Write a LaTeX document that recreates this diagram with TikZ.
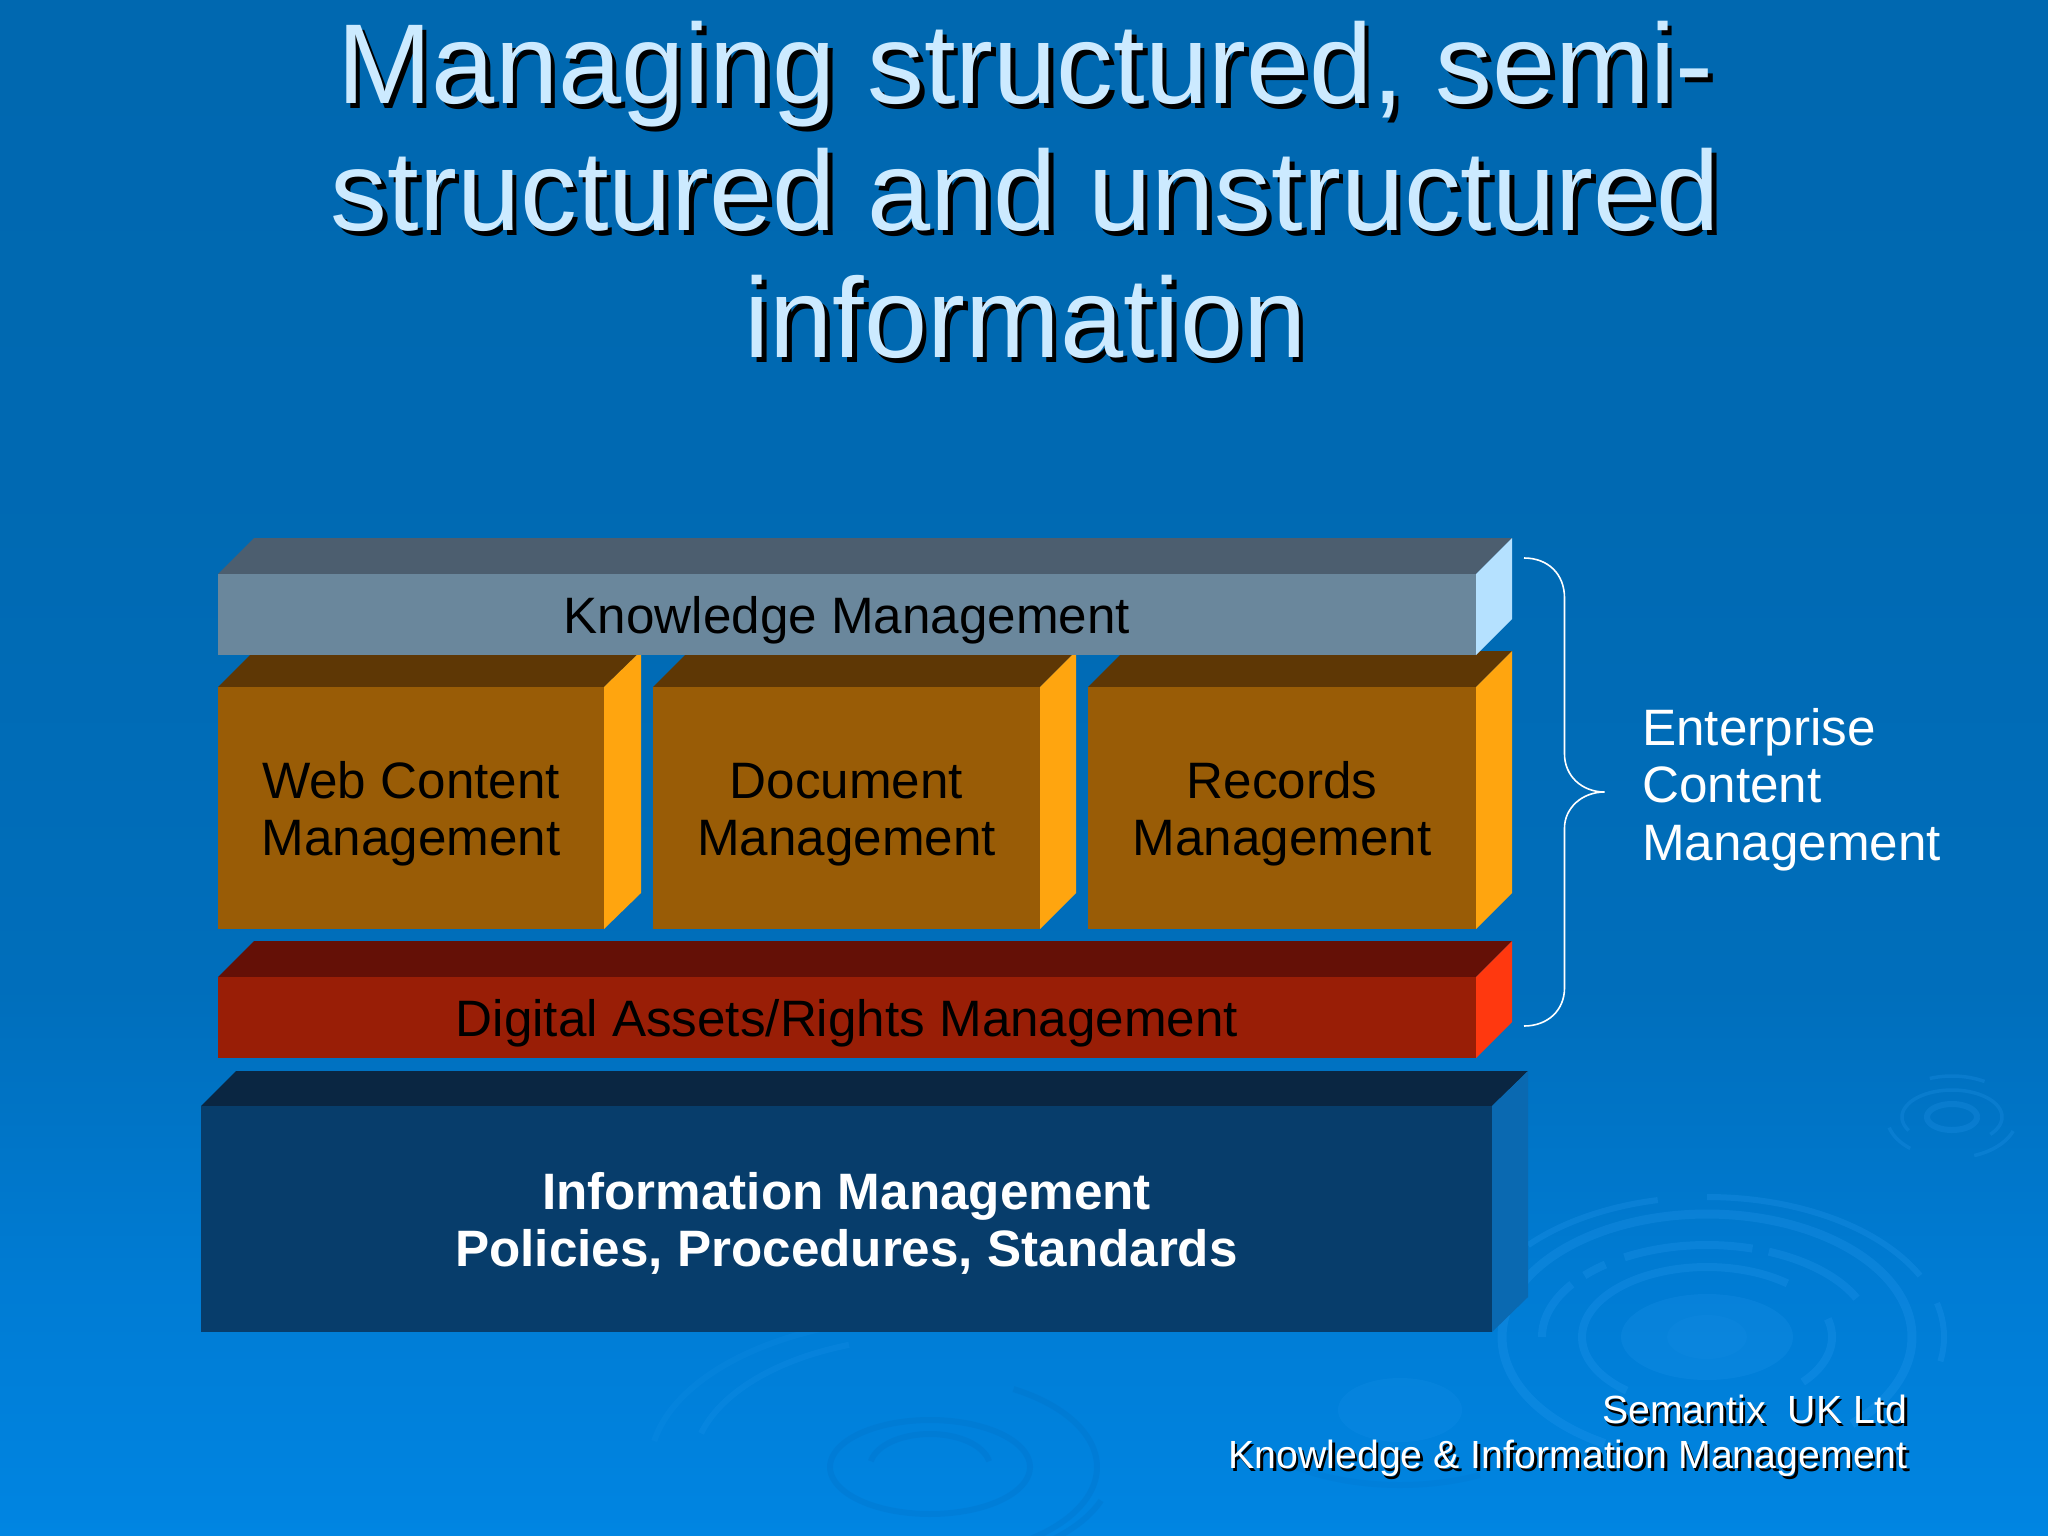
\documentclass[tikz,border=0pt]{standalone}
\usepackage{fontspec}
\setmainfont{Liberation Sans}
\definecolor{bgT}{HTML}{0068B0}
\definecolor{bgA}{HTML}{0069B2}
\definecolor{bgB}{HTML}{006EBB}
\definecolor{bgC}{HTML}{007CD4}
\definecolor{bgD}{HTML}{0085E2}
\pgfdeclareverticalshading{slidebg}{100bp}{
  color(0bp)=(bgD); color(25bp)=(bgD); color(33bp)=(bgC); color(43bp)=(bgB); color(60bp)=(bgA); color(75bp)=(bgT); color(100bp)=(bgT)}
\definecolor{kmFront}{HTML}{6A879C}
\definecolor{kmTop}{HTML}{4C5E6F}
\definecolor{kmSide}{HTML}{B5E1FF}
\definecolor{orFront}{HTML}{995C06}
\definecolor{orTop}{HTML}{5E3705}
\definecolor{orSide}{HTML}{FFA50F}
\definecolor{rdFront}{HTML}{991E06}
\definecolor{rdTop}{HTML}{641006}
\definecolor{rdSide}{HTML}{FF380F}
\definecolor{nvFront}{HTML}{073D6B}
\definecolor{nvTop}{HTML}{0A2642}
\definecolor{nvSide}{HTML}{0A69B1}
\definecolor{titleCol}{HTML}{CCEAFF}
\definecolor{rippleL}{HTML}{2FA0F5}
\definecolor{rippleD}{HTML}{0060B0}
\tikzset{
  x=1pt,y=-1pt,
  front/.style={inner sep=0pt,outer sep=0pt,align=center,text=black,font=\fontsize{51.2}{57.5}\selectfont},
  strong/.style={front,text=white,font=\bfseries\fontsize{51.2}{57.5}\selectfont},
  oneline/.style={text height=45,text depth=8},
  twolines/.style={text height=105,text depth=10},
  maintitle/.style={inner sep=0pt,align=center,font=\fontsize{113.6}{127}\selectfont},
  footer/.style={inner sep=0pt,align=right,font=\fontsize{39.3}{45}\selectfont},
  lightring/.style={draw=rippleL,opacity=.22,line width=6pt,line cap=butt},
  thinring/.style={draw=rippleL,opacity=.2,line width=3.5pt},
  darkring/.style={draw=rippleD,opacity=.15,line width=6pt},
}
% ring arc: centre x,y, radii rx,ry, angles a1,a2 (0 right, 90 down on screen)
\newcommand{\ringarc}[7]{\draw[#1] plot[domain=#6:#7,samples=60,smooth] ({#2+#4*cos(\x)},{#3+#5*sin(\x)});}
\begin{document}
\begin{tikzpicture}
\useasboundingbox (0,0) rectangle (2048,1536);
\shade[shading=slidebg] (0,0) rectangle (2048,1536);
% ripples: large
\ringarc{lightring}{1707}{1337}{237}{140}{221}{258}
\ringarc{lightring}{1707}{1337}{237}{140}{270}{334}
\ringarc{lightring}{1707}{1337}{237}{140}{346}{370}
\ringarc{lightring,line width=9pt}{1707}{1337}{205}{123}{120}{405}
\ringarc{lightring,line width=8pt}{1707}{1337}{165}{92}{180}{215}
\ringarc{lightring,line width=8pt}{1707}{1337}{165}{92}{222}{232}
\ringarc{lightring,line width=8pt}{1707}{1337}{165}{92}{240}{286}
\ringarc{lightring,line width=8pt}{1707}{1337}{165}{92}{292}{335}
\ringarc{lightring,line width=8pt}{1707}{1337}{125}{70}{130}{310}
\ringarc{lightring,line width=8pt}{1707}{1337}{125}{70}{345}{400}
\fill[rippleL,opacity=.16] (1707,1337) ellipse [x radius=86,y radius=43];
\fill[rippleL,opacity=.08] (1707,1337) ellipse [x radius=40,y radius=22];
% ripples: small
\ringarc{thinring}{1952}{1117}{65}{41}{130}{165}
\ringarc{thinring}{1952}{1117}{65}{41}{250}{300}
\ringarc{thinring}{1952}{1117}{65}{41}{20}{70}
\ringarc{thinring}{1952}{1117}{50}{27}{150}{400}
\ringarc{thinring,line width=6pt}{1952}{1117}{25}{13}{0}{360}
% ripples: lower left
\ringarc{lightring,opacity=.1}{930}{1467}{280}{150}{190}{260}
\ringarc{lightring,opacity=.14}{930}{1467}{237}{130}{195}{250}
\ringarc{darkring}{930}{1467}{100}{47}{0}{360}
\ringarc{darkring}{930}{1467}{60}{33}{190}{350}
\ringarc{darkring}{930}{1467}{167}{90}{300}{430}
\ringarc{darkring}{930}{1467}{182}{98}{20}{50}
% ripples: lower middle
\fill[rippleL,opacity=.12] (1400,1410) ellipse [x radius=62,y radius=32];
\ringarc{darkring,opacity=.1}{1400}{1410}{160}{75}{60}{130}

% base block
\fill[nvTop] (201,1106) -- (236,1071) -- (1528,1071) -- (1492,1106) -- cycle;
\fill[nvSide] (1492,1106) -- (1528,1071) -- (1528,1297) -- (1492,1332) -- cycle;
\node[strong,twolines,fill=nvFront,minimum width=1291,minimum height=226] (imp) at (846.5,1219) {Information Management\\Policies, Procedures, Standards};

% digital assets
\fill[rdTop] (218,977) -- (254,941) -- (1512,941) -- (1476,977) -- cycle;
\fill[rdSide] (1476,977) -- (1512,941) -- (1512,1022) -- (1476,1058) -- cycle;
\node[front,oneline,fill=rdFront,minimum width=1258,minimum height=81] (dam) at (847,1017.5) {Digital Assets/Rights Management};

% orange blocks
\fill[orTop] (218,687) -- (254,651) -- (641,651) -- (604,687) -- cycle;
\fill[orSide] (604,687) -- (641,651) -- (641,893) -- (604,929) -- cycle;
\node[front,twolines,fill=orFront,minimum width=386,minimum height=242] (web) at (411,808) {Web Content\\Management};

\fill[orTop] (653,687) -- (689,651) -- (1076,651) -- (1040,687) -- cycle;
\fill[orSide] (1040,687) -- (1076,651) -- (1076,893) -- (1040,929) -- cycle;
\node[front,twolines,fill=orFront,minimum width=387,minimum height=242] (doc) at (846.5,808) {Document\\Management};

\fill[orTop] (1088,687) -- (1124,651) -- (1512,651) -- (1476,687) -- cycle;
\fill[orSide] (1476,687) -- (1512,651) -- (1512,893) -- (1476,929) -- cycle;
\node[front,twolines,fill=orFront,minimum width=388,minimum height=242] (rec) at (1282,808) {Records\\Management};

% knowledge
\fill[kmTop] (218,574) -- (254,538) -- (1512,538) -- (1476,574) -- cycle;
\fill[kmSide] (1476,574) -- (1512,538) -- (1512,619) -- (1476,655) -- cycle;
\node[front,oneline,fill=kmFront,minimum width=1258,minimum height=81] (km) at (847,614.5) {Knowledge Management};

% brace
\draw[white,line width=1.6pt]
  (1524,558) .. controls (1548,558) and (1564.5,574) .. (1564.5,598)
  -- (1564.5,754) .. controls (1564.5,776) and (1582,792) .. (1604.5,792)
  .. controls (1582,792) and (1564.5,808) .. (1564.5,828)
  -- (1564.5,988) .. controls (1564.5,1010) and (1548,1026) .. (1524,1026);

\node[anchor=west,inner sep=0pt,align=left,text=white,font=\fontsize{51.2}{57.5}\selectfont] (ecm) at (1642,789.5) {Enterprise\\Content\\Management};

% title
\node[maintitle,text=black] (titleshadow) at (1030,194.5) {Managing structured, semi-\\structured and unstructured\\information};
\node[maintitle,text=titleCol] (title) at (1025.5,190) {Managing structured, semi-\\structured and unstructured\\information};

% footer
\node[footer,text=black,anchor=south east] (footshadow) at (1910.5,1479.5) {Semantix\ \ UK Ltd\\Knowledge \& Information Management};
\node[footer,text=white,anchor=south east] (foot) at (1908,1477) {Semantix\ \ UK Ltd\\Knowledge \& Information Management};
\end{tikzpicture}
\end{document}
